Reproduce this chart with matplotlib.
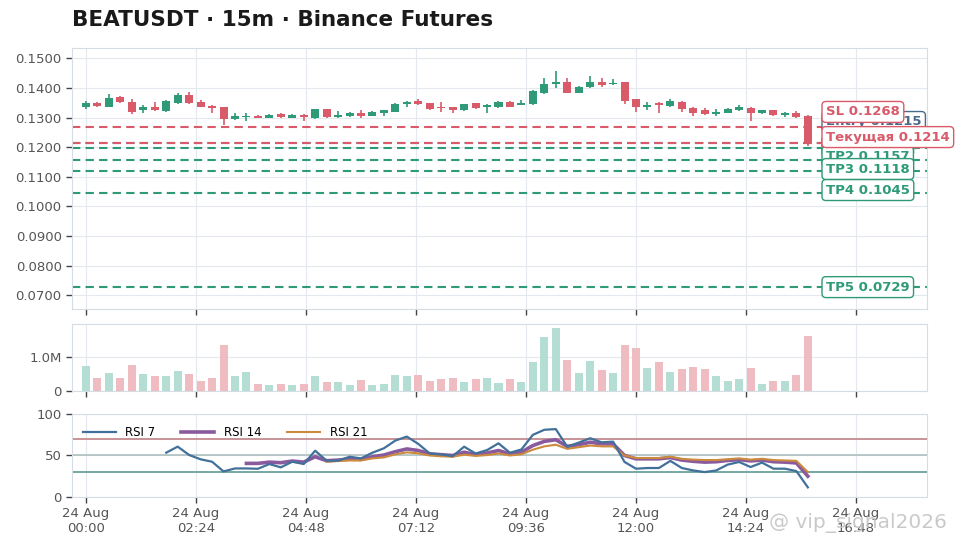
import numpy as np
import matplotlib
matplotlib.use("Agg")
import matplotlib.pyplot as plt
from matplotlib.ticker import FuncFormatter

# 15m candles, 24 Aug 00:00 .. 15:45
opens = [0.1337, 0.1348, 0.1337, 0.1368, 0.1354, 0.1324, 0.1337, 0.1323, 0.1350, 0.1376,
         0.1354, 0.1339, 0.1335, 0.1295, 0.1301, 0.1306, 0.1300, 0.1312, 0.1300, 0.1309,
         0.1298, 0.1328, 0.1301, 0.1306, 0.1315, 0.1306, 0.1315, 0.1320, 0.1345, 0.1357,
         0.1348, 0.1334, 0.1334, 0.1324, 0.1348, 0.1335, 0.1335, 0.1354, 0.1343, 0.1346,
         0.1382, 0.1413, 0.1419, 0.1384, 0.1402, 0.1421, 0.1412, 0.1419, 0.1362, 0.1335,
         0.1348, 0.1339, 0.1354, 0.1332, 0.1324, 0.1313, 0.1317, 0.1324, 0.1332, 0.1315,
         0.1324, 0.1308, 0.1315, 0.1304]
highs = [0.1357, 0.1352, 0.1380, 0.1373, 0.1362, 0.1342, 0.1351, 0.1360, 0.1382, 0.1387,
         0.1358, 0.1343, 0.1337, 0.1316, 0.1317, 0.1310, 0.1312, 0.1315, 0.1311, 0.1312,
         0.1330, 0.1330, 0.1322, 0.1318, 0.1326, 0.1323, 0.1326, 0.1349, 0.1357, 0.1363,
         0.1350, 0.1354, 0.1336, 0.1347, 0.1350, 0.1345, 0.1355, 0.1356, 0.1360, 0.1394,
         0.1434, 0.1458, 0.1433, 0.1406, 0.1439, 0.1432, 0.1429, 0.1421, 0.1364, 0.1352,
         0.1351, 0.1362, 0.1357, 0.1334, 0.1332, 0.1330, 0.1332, 0.1342, 0.1335, 0.1327,
         0.1327, 0.1320, 0.1322, 0.1308]
lows = [0.1329, 0.1336, 0.1335, 0.1350, 0.1312, 0.1315, 0.1322, 0.1320, 0.1345, 0.1345,
        0.1334, 0.1316, 0.1276, 0.1291, 0.1287, 0.1298, 0.1297, 0.1300, 0.1297, 0.1290,
        0.1296, 0.1299, 0.1299, 0.1303, 0.1297, 0.1304, 0.1305, 0.1318, 0.1334, 0.1344,
        0.1326, 0.1318, 0.1316, 0.1322, 0.1330, 0.1317, 0.1333, 0.1335, 0.1341, 0.1344,
        0.1378, 0.1400, 0.1382, 0.1382, 0.1400, 0.1404, 0.1409, 0.1347, 0.1318, 0.1324,
        0.1315, 0.1335, 0.1318, 0.1305, 0.1307, 0.1306, 0.1314, 0.1322, 0.1290, 0.1313,
        0.1304, 0.1301, 0.1300, 0.1205]
closes = [0.1350, 0.1339, 0.1365, 0.1353, 0.1320, 0.1337, 0.1324, 0.1357, 0.1376, 0.1348,
          0.1337, 0.1333, 0.1296, 0.1306, 0.1304, 0.1300, 0.1309, 0.1302, 0.1309, 0.1301,
          0.1328, 0.1301, 0.1309, 0.1315, 0.1306, 0.1320, 0.1324, 0.1346, 0.1354, 0.1346,
          0.1328, 0.1331, 0.1324, 0.1345, 0.1332, 0.1343, 0.1352, 0.1337, 0.1348, 0.1391,
          0.1415, 0.1421, 0.1384, 0.1404, 0.1421, 0.1410, 0.1417, 0.1357, 0.1335, 0.1343,
          0.1343, 0.1356, 0.1328, 0.1317, 0.1313, 0.1320, 0.1328, 0.1334, 0.1315, 0.1324,
          0.1307, 0.1314, 0.1302, 0.1214]
volumes = [0.74, 0.37, 0.52, 0.37, 0.76, 0.49, 0.44, 0.44, 0.59, 0.50,
           0.29, 0.37, 1.35, 0.44, 0.55, 0.21, 0.17, 0.21, 0.17, 0.21,
           0.44, 0.26, 0.26, 0.17, 0.32, 0.17, 0.21, 0.46, 0.44, 0.47,
           0.29, 0.35, 0.37, 0.26, 0.35, 0.37, 0.24, 0.35, 0.26, 0.85,
           1.59, 1.85, 0.91, 0.54, 0.89, 0.62, 0.54, 1.35, 1.26, 0.68,
           0.85, 0.56, 0.65, 0.71, 0.65, 0.44, 0.29, 0.35, 0.68, 0.21,
           0.29, 0.29, 0.47, 1.62]  # millions

rsi7_start = 7
rsi7 = [53.4, 60.7, 50.6, 45.4, 42.5, 30.8, 34.4, 34.4, 34.0, 39.7, 35.7, 42.5, 39.7,
        55.8, 43.7, 43.7, 48.5, 46.5, 53.4, 58.7, 68.0, 72.8, 64.0, 52.4, 51.2, 49.2,
        60.6, 52.4, 56.5, 64.7, 53.3, 57.3, 74.9, 81.0, 81.8, 60.6, 65.5, 70.8, 65.9,
        66.7, 42.2, 34.1, 34.9, 34.9, 43.5, 34.9, 32.0, 30.0, 32.0, 39.0, 42.2, 36.1,
        41.4, 34.1, 34.1, 31.2, 11.6]
rsi14_start = 14
rsi14 = [40.5, 40.5, 42.0, 41.3, 43.3, 42.0, 48.5, 43.7, 44.5, 45.7,
         45.3, 48.5, 50.6, 54.6, 57.9, 56.0, 52.0, 51.0, 50.0, 54.0,
         51.0, 53.0, 56.0, 52.0, 54.0, 62.0, 67.0, 69.0, 61.0, 63.0,
         66.0, 64.0, 64.0, 50.0, 46.0, 46.0, 46.0, 47.5, 44.5, 43.0,
         42.0, 42.5, 44.0, 45.0, 43.5, 44.5, 42.5, 42.0, 41.0, 25.0]
rsi21_start = 21
rsi21 = [42.5, 43.3, 44.0, 44.0, 46.5, 47.7, 51.4, 53.8, 52.6, 50.0,
         49.0, 48.5, 51.0, 49.5, 50.5, 52.5, 50.0, 51.5, 57.0, 61.0,
         63.0, 58.0, 60.0, 62.0, 61.0, 61.0, 50.0, 47.0, 47.0, 47.0,
         48.5, 46.0, 45.0, 44.5, 44.5, 45.5, 46.5, 45.0, 46.0, 44.5,
         44.0, 43.5, 30.0]

# trade levels
level_names = ["Entry", "TP1", "TP2", "TP3", "TP4", "TP5", "SL", "Текущая"]
level_values = [0.1215, 0.1196, 0.1157, 0.1118, 0.1045, 0.0729, 0.1268, 0.1214]
label_pos = [0.1285, 0.1204, 0.1167, 0.1126, 0.1055, 0.0727, 0.1319, 0.1234]

tick_labels = ["24 Aug\n00:00", "24 Aug\n02:24", "24 Aug\n04:48", "24 Aug\n07:12",
               "24 Aug\n09:36", "24 Aug\n12:00", "24 Aug\n14:24", "24 Aug\n16:48"]

GREEN = "#2e9a78"
RED = "#d95a69"
BLUE = "#4a6a8c"
GRID = "#e4e9ef"
SPINE = "#d5dce4"
TXT = "#555555"

plt.rcParams["font.family"] = ["DejaVu Sans"]

fig = plt.figure(figsize=(9.71, 5.48), dpi=100)
L, W = 0.0742, 0.8805
ax = fig.add_axes([L, 0.4361, W, 0.4763])
axv = fig.add_axes([L, 0.2865, W, 0.1223], sharex=ax)
axr = fig.add_axes([L, 0.0931, W, 0.1514], sharex=ax)

n = len(closes)
x = np.arange(n)
o = np.array(opens); c = np.array(closes)
h = np.array(highs); lo = np.array(lows)
up = c >= o
cols = np.where(up, GREEN, RED)

# candles
ax.vlines(x, lo, h, colors=cols, lw=1.2, zorder=3)
body = np.maximum(np.abs(c - o), 0.00018)
ax.bar(x, body, bottom=np.minimum(o, c), width=0.7, color=cols, zorder=4)

# levels + labels
level_col = {"Entry": BLUE, "SL": RED, "Текущая": RED}
for k, (name, val, pos) in enumerate(zip(level_names, level_values, label_pos)):
    col = level_col.get(name, GREEN)
    ax.axhline(val, color=col, lw=1.5, dashes=(4, 2.5), zorder=2)
    ax.text(64.58, pos, f"{name} {val:.4f}", color=col, fontsize=9.5, fontweight="bold",
            va="center", ha="left", zorder=10 + k,
            bbox=dict(boxstyle="round,pad=0.3", fc="white", ec=col, lw=1.0))

ax.set_ylim(0.0653, 0.1535)
ax.set_yticks(np.arange(0.07, 0.1501, 0.01))
ax.yaxis.set_major_formatter(FuncFormatter(lambda v, p: f"{v:.4f}"))

# volume
vcols = np.where(up, "#b4ddd4", "#efbcc1")
axv.bar(x, np.array(volumes) * 1e6, width=0.7, color=vcols, zorder=3)
axv.set_ylim(0, 1.97e6)
axv.set_yticks([0, 1e6])
axv.yaxis.set_major_formatter(FuncFormatter(lambda v, p: "0" if v == 0 else f"{v/1e6:.1f}M"))

# rsi
def padded(vals, start):
    arr = np.full(n, np.nan)
    arr[start:start + len(vals)] = vals
    return arr

axr.axhline(70, color="#c58a8d", lw=1.3, zorder=2)
axr.axhline(50, color="#a8bcbc", lw=1.1, zorder=2)
axr.axhline(30, color="#6aa39c", lw=1.3, zorder=2)
axr.plot(x, padded(rsi7, rsi7_start), color="#41709a", lw=1.6, label="RSI 7", zorder=5)
axr.plot(x, padded(rsi14, rsi14_start), color="#8a5a9e", lw=2.6, label="RSI 14", zorder=4)
axr.plot(x, padded(rsi21, rsi21_start), color="#cc8a3c", lw=1.5, label="RSI 21", zorder=4)
axr.set_ylim(0, 100)
axr.set_yticks([0, 50, 100])
axr.legend(loc="upper left", ncol=3, frameon=False, fontsize=8.5,
           handlelength=2.8, columnspacing=2.2, bbox_to_anchor=(0.0, 0.98))

# x axis (15 min per candle, ticks every 2h24)
xt = np.arange(len(tick_labels)) * 9.6
axr.set_xticks(xt)
axr.set_xticklabels(tick_labels)
ax.set_xlim(-1.22, 73.4)

for a in (ax, axv, axr):
    a.grid(True, color=GRID, lw=0.8, zorder=0)
    a.set_axisbelow(True)
    for s in a.spines.values():
        s.set_color(SPINE)
    a.tick_params(labelsize=9.5, labelcolor=TXT, color="#444444", length=4, width=1)
plt.setp(ax.get_xticklabels(), visible=False)
plt.setp(axv.get_xticklabels(), visible=False)

fig.text(0.0742, 0.9635, "BEATUSDT · 15m · Binance Futures", fontsize=15.5,
         fontweight="bold", color="#1a1a1a", va="center", ha="left")
fig.text(0.792, 0.045, "@ vip_signal2026", fontsize=14.5, color="#c4c4c4",
         va="center", ha="left", alpha=0.9)

fig.savefig("out.png", dpi=100)
